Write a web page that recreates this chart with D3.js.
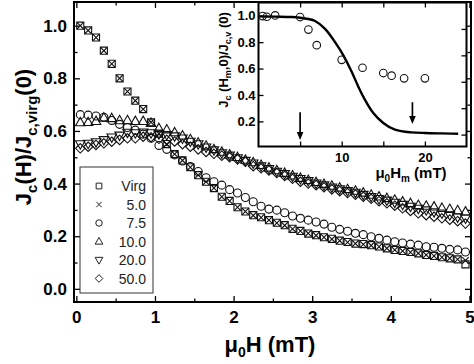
<!DOCTYPE html>
<html><head><meta charset="utf-8">
<script src="https://cdn.jsdelivr.net/npm/d3@7"></script>
<style>body{margin:0;background:#fff}svg{display:block}</style>
</head><body>
<svg id="chart" width="474" height="364"></svg>
<script>
// ---------- DATA ----------
const hValues = [0.05,0.15,0.25,0.35,0.45,0.55,0.65,0.75,0.85,0.95,1.05,1.15,1.25,1.35,1.45,1.55,1.65,1.75,1.85,1.95,2.05,2.15,2.25,2.35,2.45,2.55,2.65,2.75,2.85,2.95,3.05,3.15,3.25,3.35,3.45,3.55,3.65,3.75,3.85,3.95,4.05,4.15,4.25,4.35,4.45,4.55,4.65,4.75,4.85,4.95];
const seriesNames = ["Virg","5.0","7.5","10.0","20.0","50.0"];
const virgValues = [1.000,0.982,0.955,0.905,0.855,0.800,0.750,0.715,0.683,0.633,0.590,0.550,0.512,0.488,0.462,0.432,0.407,0.383,0.350,0.334,0.310,0.294,0.280,0.272,0.261,0.251,0.242,0.228,0.220,0.210,0.204,0.196,0.190,0.183,0.178,0.172,0.170,0.166,0.161,0.154,0.148,0.144,0.140,0.135,0.129,0.125,0.120,0.116,0.112,0.093];
const m5Values = [1.000,0.982,0.955,0.905,0.855,0.800,0.750,0.715,0.683,0.633,0.590,0.550,0.512,0.488,0.462,0.432,0.407,0.383,0.350,0.334,0.310,0.294,0.279,0.271,0.261,0.250,0.241,0.228,0.220,0.211,0.203,0.196,0.189,0.183,0.177,0.172,0.169,0.165,0.160,0.154,0.148,0.144,0.139,0.135,0.129,0.125,0.120,0.116,0.112,0.108];
const m75Values = [0.662,0.660,0.657,0.652,0.640,0.625,0.613,0.603,0.588,0.572,0.545,0.530,0.509,0.486,0.465,0.446,0.422,0.407,0.394,0.377,0.364,0.347,0.331,0.314,0.303,0.299,0.289,0.277,0.268,0.261,0.254,0.246,0.234,0.226,0.219,0.211,0.206,0.198,0.192,0.185,0.179,0.174,0.170,0.166,0.160,0.158,0.154,0.150,0.148,0.140];
const m10Values = [0.632,0.633,0.637,0.650,0.648,0.640,0.640,0.637,0.637,0.630,0.610,0.605,0.594,0.582,0.568,0.555,0.543,0.530,0.520,0.510,0.500,0.490,0.480,0.470,0.460,0.450,0.440,0.430,0.421,0.413,0.405,0.398,0.391,0.384,0.378,0.372,0.365,0.357,0.350,0.344,0.338,0.331,0.325,0.318,0.315,0.312,0.307,0.303,0.298,0.293];
const m20Values = [0.550,0.552,0.558,0.566,0.576,0.583,0.594,0.592,0.595,0.592,0.588,0.585,0.580,0.572,0.560,0.550,0.538,0.527,0.516,0.507,0.497,0.487,0.477,0.466,0.456,0.446,0.437,0.427,0.418,0.410,0.401,0.394,0.386,0.379,0.372,0.366,0.358,0.350,0.342,0.336,0.328,0.320,0.313,0.305,0.299,0.292,0.287,0.280,0.272,0.268];
const m50Values = [0.534,0.540,0.547,0.553,0.559,0.566,0.572,0.572,0.578,0.576,0.570,0.566,0.560,0.550,0.540,0.530,0.520,0.513,0.506,0.500,0.492,0.483,0.466,0.458,0.450,0.440,0.429,0.418,0.407,0.400,0.394,0.386,0.378,0.371,0.364,0.358,0.350,0.342,0.333,0.325,0.316,0.306,0.296,0.287,0.280,0.274,0.268,0.263,0.257,0.248];
const xTicks = [0,1,2,3,4,5];
const yTicks = [0.0,0.2,0.4,0.6,0.8,1.0];

// inset data
const insetH = [0.5,1.0,2.0,5.0,6.0,7.0,10.0,12.5,15.0,16.0,17.5,20.0];
const insetJ = [0.997,0.992,1.002,0.990,0.895,0.777,0.666,0.606,0.566,0.546,0.526,0.526];
const curveH = [0,2,4,5,6,6.8,8.0,9.2,10.2,11.2,12.0,12.8,13.8,15.0,16.4,18.4,20,22,24];
const curveJ = [0.995,0.993,0.990,0.985,0.975,0.960,0.900,0.800,0.700,0.576,0.463,0.363,0.263,0.188,0.138,0.117,0.112,0.109,0.107];
const arrowH = [5, 18.5];
const arrowFrom = [0.27, 0.345];
const arrowTo = [0.06, 0.18];
const insetXTicks = [10,20];
const insetYTicks = [0.2,0.4,0.6,0.8,1.0];

// ---------- SETUP ----------
const svg = d3.select("#chart");
const FONT = "'Liberation Sans', Arial, Helvetica, sans-serif";
const L = 74, R = 471, T = 2, B = 302;
const x = d3.scaleLinear().domain([-0.03, 5.02]).range([L, R]);
const y = d3.scaleLinear().domain([-0.05, 1.09]).range([B, T]);

// custom symbol types
const symX = {draw(c, s){const r = Math.sqrt(s)/2; c.moveTo(-r,-r); c.lineTo(r,r); c.moveTo(r,-r); c.lineTo(-r,r);}};
const symTriUp = {draw(c, s){const h = Math.sqrt(s)*1.1; c.moveTo(0,-h*0.62); c.lineTo(h*0.58,h*0.4); c.lineTo(-h*0.58,h*0.4); c.closePath();}};
const symTriDown = {draw(c, s){const h = Math.sqrt(s)*1.1; c.moveTo(0,h*0.62); c.lineTo(h*0.58,-h*0.4); c.lineTo(-h*0.58,-h*0.4); c.closePath();}};
const symDiamond = {draw(c, s){const r = Math.sqrt(s)*0.7; c.moveTo(0,-r); c.lineTo(r,0); c.lineTo(0,r); c.lineTo(-r,0); c.closePath();}};
const symSquare = {draw(c, s){const r = Math.sqrt(s)/2; c.rect(-r,-r,2*r,2*r);}};
const symCircle = {draw(c, s){const r = Math.sqrt(s/Math.PI); c.moveTo(r,0); c.arc(0,0,r,0,2*Math.PI);}};

const allSeries = [
  {name: seriesNames[0], values: virgValues, type: symSquare, size: 50},
  {name: seriesNames[1], values: m5Values, type: symX, size: 44},
  {name: seriesNames[2], values: m75Values, type: symCircle, size: 50},
  {name: seriesNames[3], values: m10Values, type: symTriUp, size: 56},
  {name: seriesNames[4], values: m20Values, type: symTriDown, size: 56},
  {name: seriesNames[5], values: m50Values, type: symDiamond, size: 46}
];

// ---------- MAIN AXES ----------
function styleAxis(g){ g.select(".domain").remove(); g.selectAll("line").attr("stroke","#000").attr("stroke-width",1.3); g.selectAll("text").attr("font-family",FONT).attr("font-weight","bold").attr("font-size",17).attr("fill","#000"); }
const xMinor = d3.range(0.5, 5, 1);
const yMinor = [0.1,0.3,0.5,0.7,0.9];

svg.append("g").attr("transform",`translate(0,${B})`).call(d3.axisBottom(x).tickValues(xTicks).tickFormat(d3.format("d")).tickSizeInner(-6).tickSizeOuter(0).tickPadding(9)).call(styleAxis);
svg.append("g").attr("transform",`translate(0,${B})`).call(d3.axisBottom(x).tickValues(xMinor).tickFormat("").tickSizeInner(-3.5).tickSizeOuter(0)).call(styleAxis);
svg.append("g").attr("transform",`translate(0,${T})`).call(d3.axisTop(x).tickValues(xTicks).tickFormat("").tickSizeInner(-6).tickSizeOuter(0)).call(styleAxis);
svg.append("g").attr("transform",`translate(0,${T})`).call(d3.axisTop(x).tickValues(xMinor).tickFormat("").tickSizeInner(-3.5).tickSizeOuter(0)).call(styleAxis);
svg.append("g").attr("transform",`translate(${L},0)`).call(d3.axisLeft(y).tickValues(yTicks).tickFormat(d3.format(".1f")).tickSizeInner(-6).tickSizeOuter(0).tickPadding(7)).call(styleAxis);
svg.append("g").attr("transform",`translate(${L},0)`).call(d3.axisLeft(y).tickValues(yMinor).tickFormat("").tickSizeInner(-3.5).tickSizeOuter(0)).call(styleAxis);
svg.append("g").attr("transform",`translate(${R},0)`).call(d3.axisRight(y).tickValues(yTicks).tickFormat("").tickSizeInner(-6).tickSizeOuter(0)).call(styleAxis);
svg.append("g").attr("transform",`translate(${R},0)`).call(d3.axisRight(y).tickValues(yMinor).tickFormat("").tickSizeInner(-3.5).tickSizeOuter(0)).call(styleAxis);

svg.append("rect").attr("x",L).attr("y",T).attr("width",R-L).attr("height",B-T).attr("fill","none").attr("stroke","#000").attr("stroke-width",2);

// titles
const xt = svg.append("text").attr("x",270).attr("y",352).attr("text-anchor","middle").attr("font-family",FONT).attr("font-weight","bold").attr("font-size",22);
xt.append("tspan").text("μ");
xt.append("tspan").attr("font-size",14).attr("dy",5).text("0");
xt.append("tspan").attr("dy",-5).text("H (mT)");

const yt = svg.append("text").attr("transform","translate(31,137) rotate(-90)").attr("text-anchor","middle").attr("font-family",FONT).attr("font-weight","bold").attr("font-size",22);
yt.append("tspan").text("J");
yt.append("tspan").attr("font-size",15).attr("dy",6).text("c");
yt.append("tspan").attr("dy",-6).text("(H)/J");
yt.append("tspan").attr("font-size",15).attr("dy",6).text("c,virg");
yt.append("tspan").attr("dy",-6).text("(0)");

// ---------- MAIN DATA ----------
const dataG = svg.append("g");
allSeries.forEach(s => {
  const gen = d3.symbol().type(s.type).size(s.size);
  dataG.append("g").selectAll("path").data(hValues.map((h,i)=>({h, v: s.values[i]}))).join("path")
    .attr("transform", d => `translate(${x(d.h)},${y(d.v)})`)
    .attr("d", gen).attr("fill","none").attr("stroke","#111").attr("stroke-width",1.1);
});

// ---------- LEGEND ----------
const lg = svg.append("g");
lg.append("rect").attr("x",80).attr("y",167).attr("width",73).attr("height",126).attr("fill","#fff").attr("stroke","#333").attr("stroke-width",1);
allSeries.forEach((s,i) => {
  const yy = 186 + i*18.5;
  lg.append("path").attr("transform",`translate(99,${yy})`).attr("d", d3.symbol().type(s.type).size(s.size*0.65)).attr("fill","none").attr("stroke","#222").attr("stroke-width",1);
  lg.append("text").attr("x",146).attr("y",yy+5).attr("text-anchor","end").attr("font-family",FONT).attr("font-size",14).attr("fill","#222").text(s.name);
});

// ---------- INSET ----------
const IL = 258.5, IR = 466.5, IT = 2.5, IB = 146.5;
const xi = d3.scaleLinear().domain([0,25]).range([IL,IR]);
const yi = d3.scaleLinear().domain([0.01,1.1]).range([IB,IT]);
const ins = svg.append("g");
ins.append("rect").attr("x",IL).attr("y",IT).attr("width",IR-IL).attr("height",IB-IT).attr("fill","#fff");

function styleInset(g){ g.select(".domain").remove(); g.selectAll("line").attr("stroke","#000").attr("stroke-width",1.3); g.selectAll("text").attr("font-family",FONT).attr("font-weight","bold").attr("font-size",13).attr("fill","#000"); }
const iXAll = [5,10,15,20];
ins.append("g").attr("transform",`translate(0,${IB})`).call(d3.axisBottom(xi).tickValues(iXAll).tickFormat(d => insetXTicks.includes(d) ? d : "").tickSizeInner(-5).tickSizeOuter(0).tickPadding(6)).call(styleInset);
ins.append("g").attr("transform",`translate(0,${IT})`).call(d3.axisTop(xi).tickValues(iXAll).tickFormat("").tickSizeInner(-5).tickSizeOuter(0)).call(styleInset);
ins.append("g").attr("transform",`translate(${IL},0)`).call(d3.axisLeft(yi).tickValues(insetYTicks).tickFormat(d3.format(".1f")).tickSizeInner(-5).tickSizeOuter(0).tickPadding(3)).call(styleInset);
ins.append("g").attr("transform",`translate(${IR},0)`).call(d3.axisRight(yi).tickValues([0.1,0.3,0.5,0.7,0.9]).tickFormat("").tickSizeInner(-5).tickSizeOuter(0)).call(styleInset);
ins.append("rect").attr("x",IL).attr("y",IT).attr("width",IR-IL).attr("height",IB-IT).attr("fill","none").attr("stroke","#000").attr("stroke-width",2);

// fit curve
ins.append("path").datum(curveH.map((h,i)=>[h,curveJ[i]]))
  .attr("d", d3.line().x(d=>xi(d[0])).y(d=>yi(d[1])).curve(d3.curveMonotoneX))
  .attr("fill","none").attr("stroke","#000").attr("stroke-width",2.4);
// points
ins.append("g").selectAll("circle").data(insetH.map((h,i)=>({h, v: insetJ[i]}))).join("circle")
  .attr("cx", d=>xi(d.h)).attr("cy", d=>yi(d.v)).attr("r",3.8)
  .attr("fill","none").attr("stroke","#111").attr("stroke-width",1.1);
// arrows
arrowH.forEach((h,i) => {
  const ax = xi(h), y0 = yi(arrowFrom[i]), y1 = yi(arrowTo[i]);
  ins.append("line").attr("x1",ax).attr("x2",ax).attr("y1",y0).attr("y2",y1-6).attr("stroke","#000").attr("stroke-width",1.7);
  ins.append("path").attr("d",`M${ax-3.3},${y1-8}L${ax+3.3},${y1-8}L${ax},${y1}Z`).attr("fill","#000");
});
// inset titles
const ixt = svg.append("text").attr("x",411).attr("y",178).attr("text-anchor","middle").attr("font-family",FONT).attr("font-weight","bold").attr("font-size",15);
ixt.append("tspan").text("μ");
ixt.append("tspan").attr("font-size",10).attr("dy",4).text("0");
ixt.append("tspan").attr("dy",-4).text("H");
ixt.append("tspan").attr("font-size",10).attr("dy",4).text("m");
ixt.append("tspan").attr("dy",-4).text(" (mT)");

const iyt = svg.append("text").attr("transform","translate(228,60) rotate(-90)").attr("text-anchor","middle").attr("font-family",FONT).attr("font-weight","bold").attr("font-size",13);
iyt.append("tspan").text("J");
iyt.append("tspan").attr("font-size",9).attr("dy",3).text("c");
iyt.append("tspan").attr("dy",-3).text(" (H");
iyt.append("tspan").attr("font-size",9).attr("dy",3).text("m");
iyt.append("tspan").attr("dy",-3).text(",0)/J");
iyt.append("tspan").attr("font-size",9).attr("dy",3).text("c,v");
iyt.append("tspan").attr("dy",-3).text(" (0)");
</script>
</body></html>
